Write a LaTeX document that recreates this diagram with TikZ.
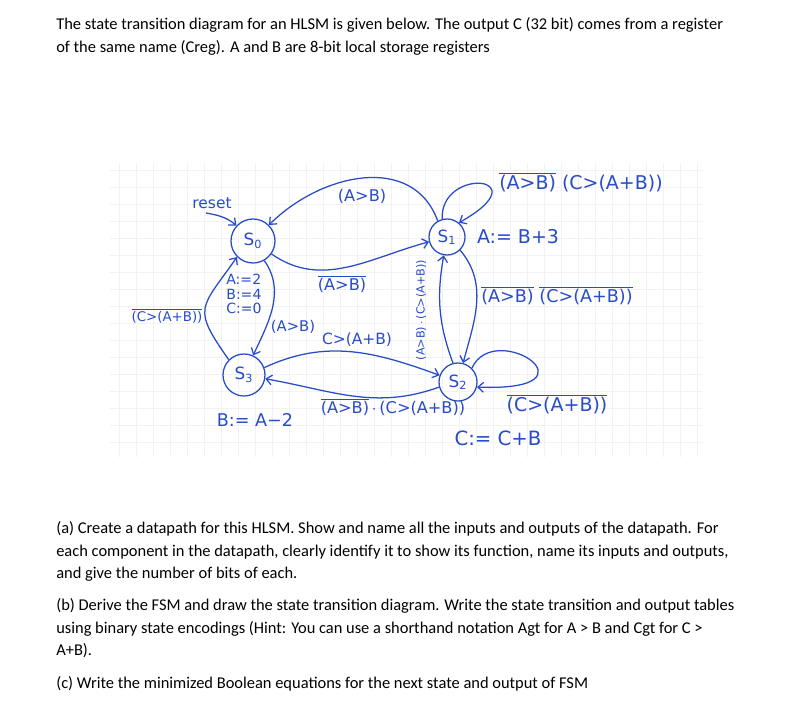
\documentclass[tikz,border=0pt]{standalone}
\usepackage{fontspec}
\setmainfont{Carlito}
\newfontfamily\hand{DejaVu Sans}
\usetikzlibrary{arrows.meta}
\definecolor{pen}{RGB}{40,75,200}
\newcommand{\nt}[1]{$\overline{\mbox{#1}}$}
\newcommand{\hw}[1]{\fontsize{#1}{#1}\hand}

\begin{document}
\begin{tikzpicture}[x=0.025cm, y=-0.025cm]
\tikzstyle{every node}=[inner sep=0pt];
\tikzstyle{state}=[draw=pen, shape=circle, line width=0.9pt, text=pen, font=\hw{12}];
\tikzstyle{lbl}=[text=pen, font=\hw{12.5}];
\tikzstyle{edge}=[draw=pen, line width=0.9pt, -{Straight Barb[length=4pt,width=7pt]}];
\tikzstyle{para}=[anchor=base west, align=left, font=\fontsize{11.7}{15.65}\selectfont];

\useasboundingbox (0,0) rectangle (800,717);
\draw[black!5, step=0.425cm] (110,163) grid (702,457);

\draw (56,52) node[para] (intro) {The state transition diagram for an HLSM is given below. The output C (32 bit) comes from a register\\of the same name (Creg). A and B are 8-bit local storage registers};

\draw (253,241) node[state, minimum size=1.1cm] (s0) {S\textsubscript{0}};
\draw (447,237) node[state, minimum size=0.9cm] (s1) {S\textsubscript{1}};
\draw (458,382) node[state, minimum size=0.95cm] (s2) {S\textsubscript{2}};
\draw (244,375) node[state, minimum size=1.05cm] (s3) {S\textsubscript{3}};

\coordinate (r0) at (206,213);
\draw (212,203) node[lbl, font=\hw{11}] (rst) {reset};

\draw (362,196) node[lbl, font=\hw{11.5}] (t01) {(A>B)};
\draw (342,284) node[lbl, font=\hw{11.5}] (t10) {\nt{(A>B)}};
\draw (581,182) node[lbl, font=\hw{13.5}] (t11) {\nt{(A>B)} (C>(A+B))};
\draw (518,237) node[lbl, font=\hw{13.5}] (o1) {A:= B+3};
\draw (557,296) node[lbl] (t12) {\nt{(A>B)} \nt{(C>(A+B))}};
\draw (244,294) node[lbl, font=\fontsize{10}{10.3}\hand, align=left] (o0) {A:=2\\B:=4\\C:=0};
\draw (293,327) node[lbl, font=\hw{10.5}] (t03) {(A>B)};
\draw (167,316) node[lbl, font=\hw{9.5}] (t30) {\nt{(C>(A+B))}};
\draw (357,340) node[lbl, font=\hw{11}] (t32) {C>(A+B)};
\draw (393,407) node[lbl, font=\hw{11.5}] (t23) {\nt{(A>B)}$\,\cdot\,$(C>(A+B))};
\draw (421,310) node[lbl, font=\hw{8}, rotate=90] (t21) {(A>B)$\,\cdot\,$(C>(A+B))};
\draw (557,404) node[lbl, font=\hw{13.5}] (t22) {\nt{(C>(A+B))}};
\draw (498,438) node[lbl, font=\hw{14}] (o2) {C:= C+B};
\draw (255,420) node[lbl, font=\hw{12.5}] (o3) {B:= A−2};

\draw[edge] (r0) to[out=-10, in=140] (s0.137);
\draw[edge] (s1.120) to[out=110, in=45, looseness=1.1] (s0.45);
\draw[edge] (s0.-35) to[out=-35, in=195] (s1.195);
\draw[edge] (s1.105) .. controls (440,166) and (542,176) .. (s1.50);
\draw[edge] (s1.-45) to[out=-50, in=75] (s2.75);
\draw[edge] (s2.105) to[out=110, in=-100] (s1.-100);
\draw[edge] (s3.20) to[out=25, in=160] (s2.160);
\draw[edge] (s2.195) to[out=200, in=-10] (s3.-10);
\draw[edge] (s0.-60) to[out=-55, in=65] (s3.65);
\draw[edge] (s3.135) to[out=125, in=-125, looseness=1.6] (s0.-135);
\draw[edge] (s2.45) .. controls (495,318) and (605,392) .. (s2.-15);

\draw (56,578) node[para] (qa) {(a) Create a datapath for this HLSM. Show and name all the inputs and outputs of the datapath. For\\each component in the datapath, clearly identify it to show its function, name its inputs and outputs,\\and give the number of bits of each.};
\draw (56,655) node[para] (qb) {(b) Derive the FSM and draw the state transition diagram. Write the state transition and output tables\\using binary state encodings (Hint: You can use a shorthand notation Agt for A > B and Cgt for C >\\A+B).};
\draw (56,688) node[para] (qc) {(c) Write the minimized Boolean equations for the next state and output of FSM};

\end{tikzpicture}
\end{document}
